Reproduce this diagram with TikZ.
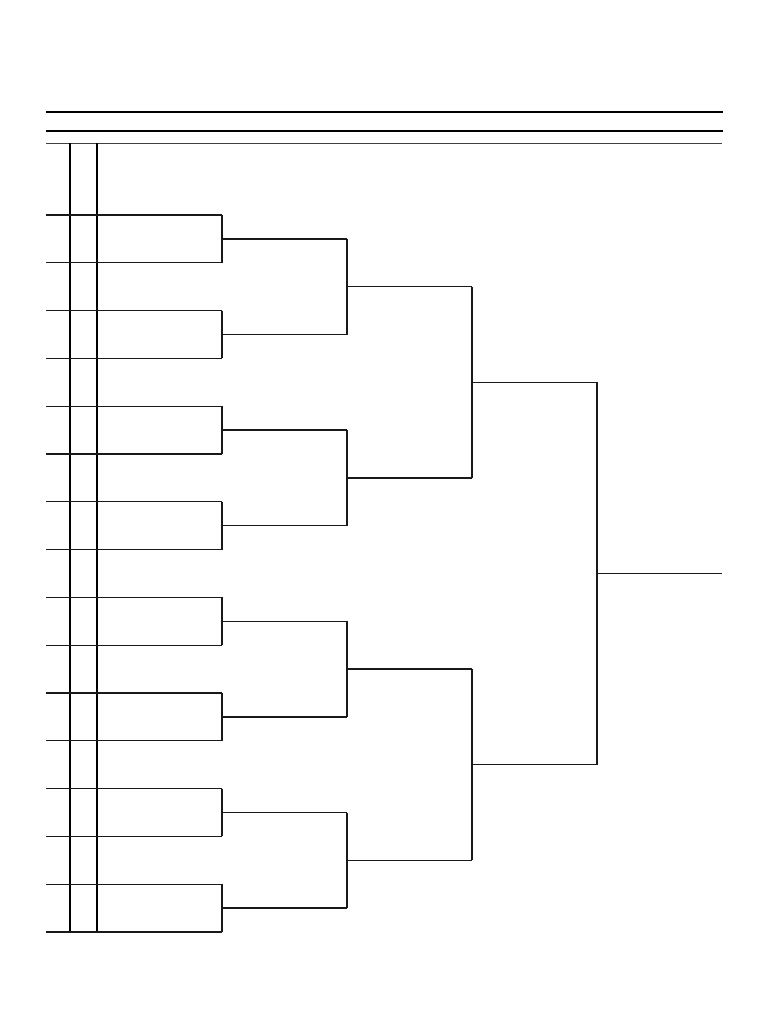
\documentclass[tikz,border=0pt]{standalone}
\usepackage{tikz}
\usetikzlibrary{calc}

\tikzset{bracket/.style={line width=1, color=black!90}}

\begin{document}
\begin{tikzpicture}[x=0.75pt,y=0.75pt,yscale=-1,xscale=1]
\useasboundingbox (0,0) rectangle (768,1024);

%Header rules
\draw [line width=1.5] (46,112) -- (723,112);
\draw [line width=1.5] (46,131) -- (723,131);
\draw [line width=0.75, color=black!75] (46,143) -- (722,143);

%Column rules
\coordinate (ca) at (70,143);
\coordinate (cb) at (97,143);
\draw [line width=1] (ca) -- (70,932);
\draw [line width=1] (cb) -- (97,932);

%First round slots
\foreach \i in {0,...,15} {
  \coordinate (a\i) at (46,215+47.8*\i);
  \coordinate (b\i) at (222,215+47.8*\i);
  \draw [bracket] (a\i) -- (b\i);
}
%Round 1 -> 2
\foreach \i in {0,...,7} {
  \pgfmathtruncatemacro\j{2*\i}
  \pgfmathtruncatemacro\k{2*\i+1}
  \draw [bracket] (b\j) -- (b\k);
  \coordinate (m\i) at ($(b\j)!0.5!(b\k)$);
  \coordinate (c\i) at ($(m\i)+(125,0)$);
  \draw [bracket] (m\i) -- (c\i);
}
%Round 2 -> 3
\foreach \i in {0,...,3} {
  \pgfmathtruncatemacro\j{2*\i}
  \pgfmathtruncatemacro\k{2*\i+1}
  \draw [bracket] (c\j) -- (c\k);
  \coordinate (n\i) at ($(c\j)!0.5!(c\k)$);
  \coordinate (d\i) at ($(n\i)+(125,0)$);
  \draw [bracket] (n\i) -- (d\i);
}
%Round 3 -> 4
\foreach \i in {0,1} {
  \pgfmathtruncatemacro\j{2*\i}
  \pgfmathtruncatemacro\k{2*\i+1}
  \draw [bracket] (d\j) -- (d\k);
  \coordinate (p\i) at ($(d\j)!0.5!(d\k)$);
  \coordinate (e\i) at ($(p\i)+(125,0)$);
  \draw [bracket] (p\i) -- (e\i);
}
%Final
\draw [bracket] (e0) -- (e1);
\coordinate (q) at ($(e0)!0.5!(e1)$);
\coordinate (w) at ($(q)+(125,0)$);
\draw [bracket] (q) -- (w);

\end{tikzpicture}
\end{document}
